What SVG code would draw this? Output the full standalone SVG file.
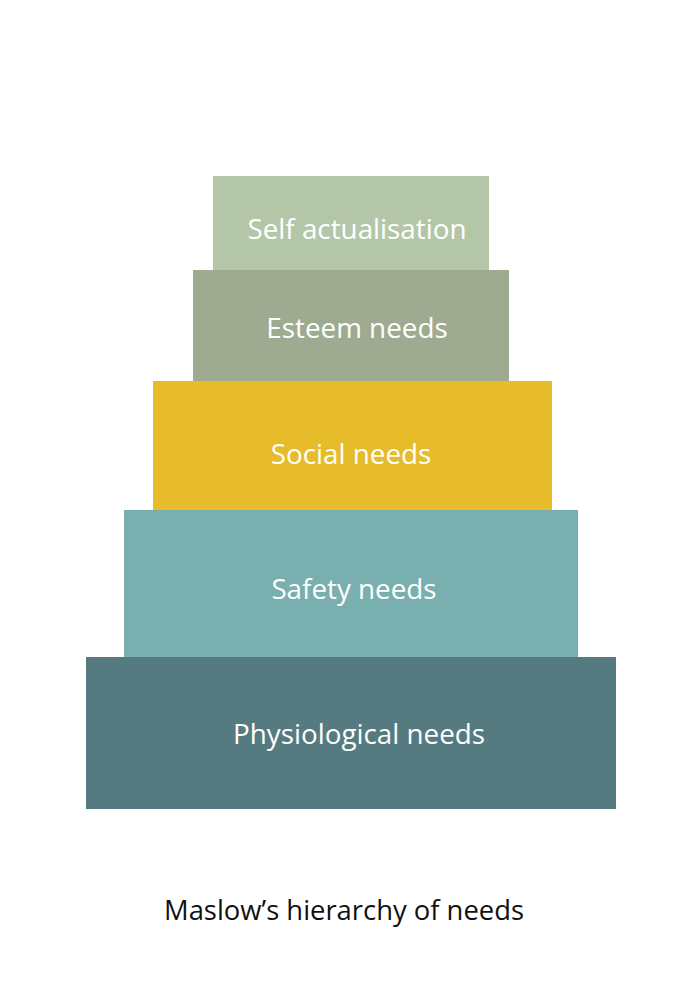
<svg xmlns="http://www.w3.org/2000/svg" width="691" height="1000" viewBox="0 0 691 1000">
<style>
.l{font-family:"Open Sans","Liberation Sans",sans-serif;font-size:27.8px;fill:#fff;text-anchor:middle;dominant-baseline:central}
.t{font-family:"Open Sans","Liberation Sans",sans-serif;font-size:27.4px;fill:#111;text-anchor:middle;dominant-baseline:central}
</style>
<rect width="691" height="1000" fill="#fff"/>
<g id="self"><rect x="213" y="176" width="276" height="95" fill="#b3c7a8"/><text class="l" x="357" y="228">Self actualisation</text></g>
<g id="esteem"><rect x="193" y="270" width="316" height="112" fill="#9eab91"/><text class="l" x="357" y="327">Esteem needs</text></g>
<g id="social"><rect x="153" y="381" width="399" height="130" fill="#e6bc2a"/><text class="l" x="351" y="453">Social needs</text></g>
<g id="safety"><rect x="124" y="510" width="454" height="148" fill="#79afae"/><text class="l" x="354" y="588">Safety needs</text></g>
<g id="physio"><rect x="86" y="657" width="530" height="152" fill="#557b80"/><text class="l" x="359" y="733">Physiological needs</text></g>
<g id="connectors"/>
<text class="t" x="344" y="909">Maslow’s hierarchy of needs</text>
</svg>
